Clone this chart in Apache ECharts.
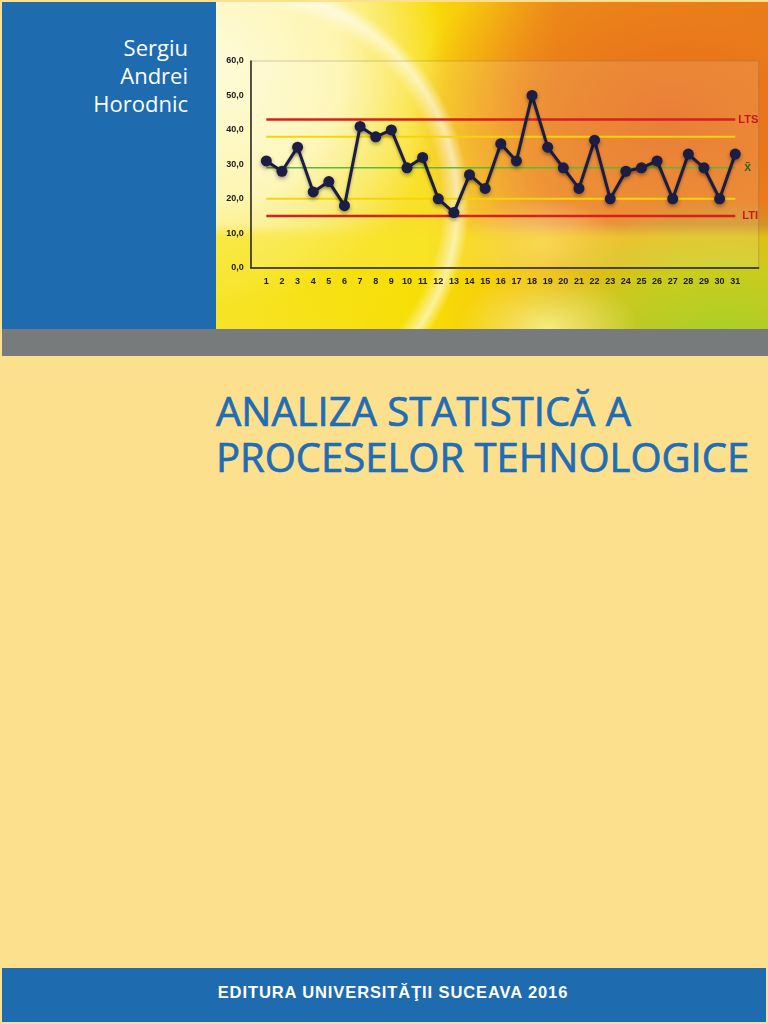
<!DOCTYPE html>
<html>
<head>
<meta charset="utf-8">
<script src="https://cdn.jsdelivr.net/npm/echarts@6/dist/echarts.min.js"></script>
<style>
  html, body { margin: 0; padding: 0; }
  body { width: 768px; height: 1024px; position: relative; overflow: hidden; background: #fde08e; }
  #blue { position: absolute; left: 2px; top: 2px; width: 214px; height: 327px; background: #1e6bb0; }
  #authors { position: absolute; left: 0; top: 32.5px; width: 188px; text-align: right; color: #fff;
    font-family: "Open Sans", sans-serif; font-size: 22px; line-height: 28px; }
  #bg { position: absolute; left: 216px; top: 2px; width: 552px; height: 327px; overflow: hidden;
    background:
      radial-gradient(ellipse 90px 60px at 60% 100%, rgba(245,250,200,0.9), rgba(245,250,200,0) 100%),
      radial-gradient(ellipse 210px 130px at 92% 100%, rgba(140,200,55,1), rgba(150,205,60,0.75) 50%, rgba(140,200,60,0) 100%),
      radial-gradient(ellipse 80px 45px at 59% 74%, rgba(250,215,150,0.7), rgba(250,215,150,0) 100%),
      radial-gradient(ellipse 260px 190px at 82% 36%, rgba(230,108,26,1), rgba(234,120,26,0.7) 55%, rgba(236,130,26,0) 100%),
      radial-gradient(ellipse 230px 240px at 0% 20%, rgba(255,252,225,0.95) 0%, rgba(255,250,210,0.8) 55%, rgba(255,245,160,0) 100%),
      linear-gradient(to right, #f7e43a 0%, #f8dc08 38%, #f6c010 50%, #ee9418 62%, #e8801a 100%);
  }
  #swirl { position: absolute; left: 216px; top: 2px; width: 552px; height: 327px; overflow: hidden;
    background:
      radial-gradient(circle 230px at 5% 62%, rgba(255,255,255,0) 86%, rgba(255,255,255,0.6) 93%, rgba(255,255,255,0) 98%),
      linear-gradient(to bottom, rgba(255,255,255,0) 68%, rgba(246,226,0,0.5) 72%, rgba(246,226,0,0.3) 100%);
  }
  #chart { position: absolute; left: 216px; top: 0; width: 552px; height: 328px; }
  #gray { position: absolute; left: 2px; top: 329px; width: 766px; height: 27px; background: #777b7c; }
  #title { position: absolute; left: 216px; top: 388px; color: #1f6db4; white-space: nowrap;
    font-family: "Open Sans", sans-serif; font-weight: 400; font-size: 40px; line-height: 46px;
    -webkit-text-stroke: 0.7px #1f6db4; }
  #footer { position: absolute; left: 2px; top: 968px; width: 764px; height: 54px; background: #1e6bb0; }
  #ftext { position: absolute; left: 0; top: 968px; width: 786px; text-align: center; color: #fff;
    font-family: "Liberation Sans", Arial, sans-serif; font-weight: bold; font-size: 16.5px; letter-spacing: 0.9px;
    line-height: 48px; white-space: nowrap; }
</style>
</head>
<body>
<div id="blue"></div>
<div id="authors">Sergiu<br>Andrei<br>Horodnic</div>
<div id="bg"></div>
<div id="swirl"></div>
<div id="chart"></div>
<div id="gray"></div>
<div id="title">ANALIZA STATISTICĂ A<br>PROCESELOR TEHNOLOGICE</div>
<div id="footer"></div>
<div id="ftext">EDITURA UNIVERSITĂŢII SUCEAVA 2016</div>
<script>
// sample numbers (x axis)
const samples = [1,2,3,4,5,6,7,8,9,10,11,12,13,14,15,16,17,18,19,20,21,22,23,24,25,26,27,28,29,30,31];
// measured values
const values = [31,28,35,22,25,18,41,38,40,29,32,20,16,27,23,36,31,50,35,29,23,37,20,28,29,31,20,33,29,20,33];
// control limits
const limitLTS = 43;
const limitUpperWarn = 38;
const limitMean = 29;
const limitLowerWarn = 20;
const limitLTI = 15;
const limitNames = ['LTS', '', 'x\u0304', '', 'LTI'];
// y tick labels
const yTickLabels = ['0,0','10,0','20,0','30,0','40,0','50,0','60,0'];

const first = samples[0], last = samples[samples.length - 1];
function hline(v) { return [[first, v], [last, v]]; }

const chart = echarts.init(document.getElementById('chart'), null, { renderer: 'canvas' });
const labelFont = { fontFamily: 'Liberation Sans, Arial, sans-serif', fontWeight: 'bold', fontSize: 9, color: '#1a1a1a' };

function limitSeries(v, color, width, label, labelColor, dist, size) {
  return {
    type: 'line', data: hline(v), symbol: 'none', silent: true, z: 2,
    lineStyle: { color: color, width: width },
    endLabel: label ? { show: true, formatter: label, color: labelColor, distance: dist,
      fontFamily: 'Liberation Sans, Arial, sans-serif', fontWeight: 'bold', fontSize: size || 11 } : { show: false }
  };
}

chart.setOption({
  backgroundColor: 'transparent',
  animation: false,
  grid: { left: 34.7, right: 9.3, top: 61, bottom: 60.3, show: true,
    borderColor: 'rgba(120,110,90,0.35)', borderWidth: 1, backgroundColor: 'rgba(255,255,255,0.13)' },
  xAxis: {
    type: 'value', min: 0, max: 32.5, interval: 1,
    axisLine: { show: true, lineStyle: { color: '#222', width: 1.5 } },
    axisTick: { show: false }, splitLine: { show: false },
    axisLabel: Object.assign({ margin: 9, showMaxLabel: false, showMinLabel: false,
      formatter: function (v) { return samples.indexOf(v) >= 0 ? String(v) : ''; } }, labelFont)
  },
  yAxis: {
    type: 'value', min: 0, max: 60, interval: 10,
    axisLine: { show: true, lineStyle: { color: '#222', width: 1.5 } },
    axisTick: { show: false }, splitLine: { show: false },
    axisLabel: Object.assign({ margin: 7, formatter: function (v) { return yTickLabels[Math.round(v / 10)]; } }, labelFont)
  },
  series: [
    limitSeries(limitLTS, '#d81e22', 2.5, limitNames[0], '#c8161c', 3, 11),
    limitSeries(limitUpperWarn, '#f6d40c', 2, limitNames[1], '', 0),
    limitSeries(limitMean, '#5cb936', 1.6, limitNames[2], '#3a6620', 9, 12.5),
    limitSeries(limitLowerWarn, '#f6d40c', 2, limitNames[3], '', 0),
    limitSeries(limitLTI, '#d81e22', 2.5, limitNames[4], '#c8161c', 7, 11),
    {
      type: 'line', z: 5,
      data: samples.map(function (s, i) { return [s, values[i]]; }),
      symbol: 'circle', symbolSize: 11,
      lineStyle: { color: '#1b1d45', width: 3, shadowColor: 'rgba(0,0,0,0.35)', shadowBlur: 3, shadowOffsetY: 2 },
      itemStyle: { color: '#1b1d45', shadowColor: 'rgba(0,0,0,0.4)', shadowBlur: 4, shadowOffsetY: 2 }
    }
  ]
});
</script>
</body>
</html>
